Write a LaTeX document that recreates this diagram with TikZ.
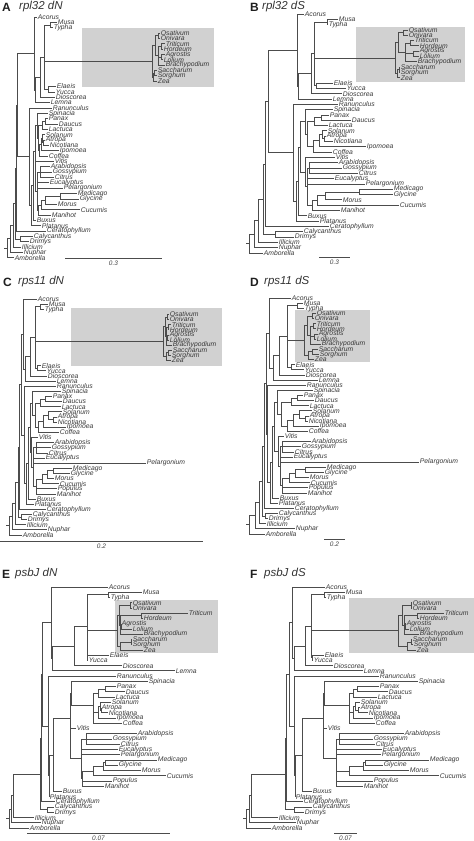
\documentclass[tikz,border=0pt]{standalone}
\usepackage{fontspec}
\setmainfont{Liberation Sans}
\usetikzlibrary{calc}

\tikzset{
  branch/.style={draw=black!70, line width=0.75pt},
  leaf/.style={anchor=west, inner sep=0.7pt, text=black!78, font=\fontsize{6.8}{7.5}\selectfont\itshape},
  letter/.style={anchor=west, inner sep=0pt, text=black!88, font=\fontsize{12}{14}\selectfont\bfseries},
  gene/.style={anchor=west, inner sep=0pt, text=black!80, font=\fontsize{11.5}{13}\selectfont\itshape},
  scalebar/.style={draw=black!70, line width=0.8pt},
  barlabel/.style={inner sep=0pt, text=black!75, font=\fontsize{6.5}{7}\selectfont\itshape},
  grassbox/.style={fill=black!18},
}

\newif\ifpop
% x of every inner node of one tree
\newcommand\setnodes[1]{\foreach \k/\v in {#1}{\expandafter\xdef\csname nodex-\k\endcsname{\v}}}
% tips, one row each
\newcommand\leaves[2]{%
  \foreach \n/\x [count=\i from 0] in {#2}{%
    \coordinate (\n) at (\x,\i);
    \node[leaf] (#1\n) at (\n) {\n};}}
% inner node half way between its outer children
\newcommand\clade[3]{%
  \edef\cx{\csname nodex-#1\endcsname}%
  \coordinate (mid) at ($(#2)!.5!(#3)$);
  \coordinate (cxref) at (\cx,0);
  \coordinate (#1) at (cxref |- mid);
  \draw[branch] (#1) |- (#2) (#1) |- (#3);}
\newcommand\twig[2]{\draw[branch] (#1) |- (#2);}

\newcommand\drawtree{%
  % grasses
  \clade{ory}{Osativum}{Onivara}
  \clade{th}{Triticum}{Hordeum}
  \clade{al}{Agrostis}{Lolium}
  \clade{poo}{th}{Brachypodium}\twig{poo}{al}
  \clade{bep}{ory}{poo}
  \clade{ss}{Saccharum}{Sorghum}
  \clade{pan}{ss}{Zea}
  \clade{grass}{bep}{pan}
  % other monocots
  \clade{mt}{Musa}{Typha}
  \clade{ey}{Elaeis}{Yucca}
  \clade{com}{mt}{ey}\twig{com}{grass}
  \clade{dio}{com}{Dioscorea}
  \clade{lem}{dio}{Lemna}
  \clade{mono}{Acorus}{lem}
  % asterids
  \clade{pd}{Panax}{Daucus}
  \clade{cam}{pd}{Lactuca}
  \clade{an}{Atropa}{Nicotiana}
  \clade{sol}{Solanum}{an}
  \clade{solip}{sol}{Ipomoea}
  \clade{lam}{solip}{Coffea}
  \clade{ast}{cam}{lam}
  \clade{car}{Spinacia}{ast}
  % rosids
  \clade{mg}{Medicago}{Glycine}
  \clade{fab1}{mg}{Morus}
  \clade{fab2}{fab1}{Cucumis}
  \clade{fab}{fab2}{Manihot}\ifpop\twig{fab}{Populus}\fi
  \clade{mal}{Arabidopsis}{Citrus}\twig{mal}{Gossypium}
  \clade{ros}{mal}{fab}\twig{ros}{Eucalyptus}\twig{ros}{Pelargonium}
  \clade{vros}{Vitis}{ros}
  \clade{core}{car}{vros}
  \clade{bx}{core}{Buxus}
  \clade{pl}{bx}{Platanus}
  \clade{eu}{Ranunculus}{pl}
  % backbone
  \clade{meso}{mono}{eu}
  \clade{cer}{meso}{Ceratophyllum}
  \clade{mag}{Calycanthus}{Drimys}
  \clade{mes}{cer}{mag}
  \clade{ill}{mes}{Illicium}
  \clade{nup}{ill}{Nuphar}
  \clade{root}{nup}{Amborella}
  \draw[branch] (root) -- ++(-3,0);
}

\begin{document}
\begin{tikzpicture}[x=1pt, y=-1pt]
  \useasboundingbox (0,0) rectangle (474,841);

  % grass clades
  \fill[grassbox] (82,28) rectangle (214,87);
  \fill[grassbox] (356,27) rectangle (465,82);
  \fill[grassbox] (71,308) rectangle (222,366);
  \fill[grassbox] (295,310) rectangle (370,362);
  \fill[grassbox] (115,600) rectangle (218,653);
  \fill[grassbox] (349,598) rectangle (474,653);

  % A rpl32 dN
  \begin{scope}[shift={(0,17)}, y=-5.35pt]
    \popfalse
    \setnodes{root/7, nup/10, ill/13, mes/15, mag/20, cer/16, meso/17, mono/34, lem/35, dio/40, com/44, mt/50, ey/48, grass/152, bep/155, ory/158, poo/158, th/161, al/161, pan/153, ss/154, eu/29, pl/31, bx/33, core/35, car/37, ast/38, cam/42, pd/45, lam/39, solip/41, sol/42, an/43, vros/35, ros/37, mal/40, fab/38, fab2/41, fab1/45, mg/60}
    \leaves{A-}{Acorus/37, Musa/57, Typha/53, Osativum/160, Onivara/160, Triticum/165, Hordeum/163, Agrostis/165, Lolium/163, Brachypodium/165, Saccharum/157, Sorghum/157, Zea/157, Elaeis/56, Yucca/55, Dioscorea/55, Lemna/50, Ranunculus/52, Spinacia/48, Panax/48, Daucus/58, Lactuca/48, Solanum/45, Atropa/45, Nicotiana/49, Ipomoea/59, Coffea/48, Vitis/54, Arabidopsis/50, Gossypium/52, Citrus/54, Eucalyptus/49, Pelargonium/63, Medicago/77, Glycine/79, Morus/57, Cucumis/80, Manihot/51, Buxus/36, Platanus/41, Ceratophyllum/46, Calycanthus/33, Drimys/29, Illicium/21, Nuphar/23, Amborella/14}
    \drawtree
  \end{scope}
  \node[letter] (labA) at (2,7) {A};
  \node[gene] (geneA) at (19,7) {rpl32 dN};
  \draw[scalebar] (65,258) -- (162,258) node[barlabel, midway, below=3pt] (barA) {0.3};

  % B rpl32 dS
  \begin{scope}[shift={(237,14)}, y=-5.31pt]
    \popfalse
    \setnodes{root/12, nup/17, ill/21, mes/26, mag/38, cer/28, meso/31, mono/60, lem/61, dio/74, com/77, mt/90, ey/79, grass/158, bep/161, ory/166, poo/168, th/173, al/176, pan/160, ss/162, eu/56, pl/59, bx/61, core/63, car/68, ast/70, cam/77, pd/84, lam/76, solip/82, sol/85, an/87, vros/68, ros/70, mal/72, fab/75, fab2/80, fab1/88, mg/122}
    \leaves{B-}{Acorus/67, Musa/101, Typha/91, Osativum/171, Onivara/171, Triticum/177, Hordeum/182, Agrostis/182, Lolium/182, Brachypodium/180, Saccharum/163, Sorghum/163, Zea/163, Elaeis/96, Yucca/109, Dioscorea/105, Lemna/95, Ranunculus/101, Spinacia/96, Panax/92, Daucus/114, Lactuca/91, Solanum/90, Atropa/89, Nicotiana/96, Ipomoea/129, Coffea/95, Vitis/98, Arabidopsis/101, Gossypium/105, Citrus/121, Eucalyptus/97, Pelargonium/128, Medicago/156, Glycine/156, Morus/105, Cucumis/162, Manihot/103, Buxus/70, Platanus/82, Ceratophyllum/92, Calycanthus/66, Drimys/57, Illicium/41, Nuphar/41, Amborella/26}
    \drawtree
  \end{scope}
  \node[letter] (labB) at (250,7) {B};
  \node[gene] (geneB) at (262,7) {rpl32 dS};
  \draw[scalebar] (319,257) -- (350,257) node[barlabel, midway, below=3pt] (barB) {0.3};

  % C rps11 dN
  \begin{scope}[shift={(0,299)}, y=-5.13pt]
    \poptrue
    \setnodes{root/9, nup/12, ill/15, mes/18, mag/21, cer/19, meso/21, mono/23, lem/25, dio/30, com/35, mt/40, ey/37, grass/163, bep/165, ory/167, poo/166, th/168, al/167, pan/166, ss/168, eu/24, pl/26, bx/28, core/30, car/32, ast/35, cam/40, pd/45, lam/38, solip/43, sol/48, an/53, vros/31, ros/33, mal/36, fab/36, fab2/42, fab1/47, mg/53}
    \leaves{C-}{Acorus/37, Musa/48, Typha/44, Osativum/169, Onivara/169, Triticum/171, Hordeum/169, Agrostis/169, Lolium/169, Brachypodium/172, Saccharum/172, Sorghum/171, Zea/171, Elaeis/41, Yucca/46, Dioscorea/47, Lemna/56, Ranunculus/56, Spinacia/61, Panax/52, Daucus/62, Lactuca/61, Solanum/62, Atropa/57, Nicotiana/57, Ipomoea/66, Coffea/59, Vitis/38, Arabidopsis/54, Gossypium/51, Citrus/48, Eucalyptus/45, Pelargonium/146, Medicago/72, Glycine/70, Morus/54, Cucumis/59, Populus/57, Manihot/56, Buxus/36, Platanus/34, Ceratophyllum/46, Calycanthus/32, Drimys/27, Illicium/26, Nuphar/47, Amborella/22}
    \drawtree
  \end{scope}
  \node[letter] (labC) at (3,282) {C};
  \node[gene] (geneC) at (18,282) {rps11 dN};
  \draw[scalebar] (0,541) -- (203,541) node[barlabel, midway, below=3pt] (barC) {0.2};

  % D rps11 dS
  \begin{scope}[shift={(237,298)}, y=-5.13pt]
    \poptrue
    \setnodes{root/12, nup/18, ill/22, mes/25, mag/28, cer/27, meso/29, mono/32, lem/36, dio/42, com/50, mt/60, ey/54, grass/67, bep/70, ory/75, poo/73, th/76, al/77, pan/71, ss/75, eu/30, pl/33, bx/35, core/37, car/40, ast/44, cam/54, pd/60, lam/50, solip/56, sol/62, an/68, vros/41, ros/43, mal/45, fab/45, fab2/52, fab1/58, mg/68}
    \leaves{D-}{Acorus/54, Musa/66, Typha/67, Osativum/79, Onivara/77, Triticum/79, Hordeum/79, Agrostis/81, Lolium/79, Brachypodium/84, Saccharum/81, Sorghum/82, Zea/77, Elaeis/58, Yucca/67, Dioscorea/68, Lemna/81, Ranunculus/69, Spinacia/76, Panax/66, Daucus/77, Lactuca/72, Solanum/75, Atropa/72, Nicotiana/71, Ipomoea/82, Coffea/71, Vitis/47, Arabidopsis/74, Gossypium/64, Citrus/57, Eucalyptus/56, Pelargonium/182, Medicago/89, Glycine/87, Morus/72, Cucumis/73, Populus/71, Manihot/70, Buxus/42, Platanus/41, Ceratophyllum/57, Calycanthus/41, Drimys/31, Illicium/29, Nuphar/58, Amborella/28}
    \drawtree
  \end{scope}
  \node[letter] (labD) at (250,282) {D};
  \node[gene] (geneD) at (264,282) {rps11 dS};
  \draw[scalebar] (324,539) -- (345,539) node[barlabel, midway, below=3pt] (barD) {0.2};

  % E psbJ dN
  \begin{scope}[shift={(0,587)}, y=-5.24pt]
    \poptrue
    \setnodes{root/9, nup/11, ill/13, mes/40, mag/47, cer/41, meso/42, mono/51, lem/52, dio/74, com/87, mt/108, ey/87, grass/117, bep/119, ory/130, poo/120, th/141, al/121, pan/120, ss/131, eu/48, pl/49, bx/53, core/70, car/71, ast/93, cam/98, pd/105, lam/93, solip/98, sol/100, an/101, vros/70, ros/81, mal/86, fab/82, fab2/93, fab1/103, mg/105}
    \leaves{E-}{Acorus/108, Musa/142, Typha/110, Osativum/132, Onivara/132, Triticum/188, Hordeum/143, Agrostis/121, Lolium/132, Brachypodium/143, Saccharum/132, Sorghum/132, Zea/143, Elaeis/109, Yucca/88, Dioscorea/122, Lemna/175, Ranunculus/116, Spinacia/148, Panax/116, Daucus/125, Lactuca/115, Solanum/111, Atropa/101, Nicotiana/108, Ipomoea/116, Coffea/122, Vitis/76, Arabidopsis/137, Gossypium/112, Citrus/120, Eucalyptus/118, Pelargonium/120, Medicago/157, Glycine/118, Morus/141, Cucumis/166, Populus/112, Manihot/104, Buxus/62, Platanus/49, Ceratophyllum/55, Calycanthus/54, Drimys/54, Illicium/34, Nuphar/41, Amborella/29}
    \drawtree
  \end{scope}
  \node[letter] (labE) at (2,574) {E};
  \node[gene] (geneE) at (15,574) {psbJ dN};
  \draw[scalebar] (27,833) -- (170,833) node[barlabel, midway, below=3pt] (barE) {0.07};

  % F psbJ dS
  \begin{scope}[shift={(237,587)}, y=-5.24pt]
    \poptrue
    \setnodes{root/9, nup/12, ill/14, mes/48, mag/57, cer/49, meso/52, mono/55, lem/57, dio/68, com/74, mt/87, ey/75, grass/161, bep/165, ory/174, poo/167, th/180, al/168, pan/170, ss/174, eu/57, pl/58, bx/65, core/86, car/87, ast/112, cam/116, pd/120, lam/112, solip/116, sol/118, an/121, vros/86, ros/99, mal/102, fab/99, fab2/112, fab1/126, mg/128}
    \leaves{F-}{Acorus/88, Musa/108, Typha/89, Osativum/175, Onivara/175, Triticum/207, Hordeum/182, Agrostis/169, Lolium/172, Brachypodium/182, Saccharum/175, Sorghum/176, Zea/179, Elaeis/87, Yucca/76, Dioscorea/96, Lemna/126, Ranunculus/142, Spinacia/181, Panax/142, Daucus/151, Lactuca/140, Solanum/123, Atropa/123, Nicotiana/131, Ipomoea/136, Coffea/138, Vitis/90, Arabidopsis/167, Gossypium/136, Citrus/138, Eucalyptus/145, Pelargonium/144, Medicago/192, Glycine/146, Morus/172, Cucumis/202, Populus/136, Manihot/126, Buxus/75, Platanus/58, Ceratophyllum/66, Calycanthus/75, Drimys/67, Illicium/41, Nuphar/59, Amborella/34}
    \drawtree
  \end{scope}
  \node[letter] (labF) at (250,574) {F};
  \node[gene] (geneF) at (264,574) {psbJ dS};
  \draw[scalebar] (334,833) -- (357,833) node[barlabel, midway, below=3pt] (barF) {0.07};
\end{tikzpicture}
\end{document}
